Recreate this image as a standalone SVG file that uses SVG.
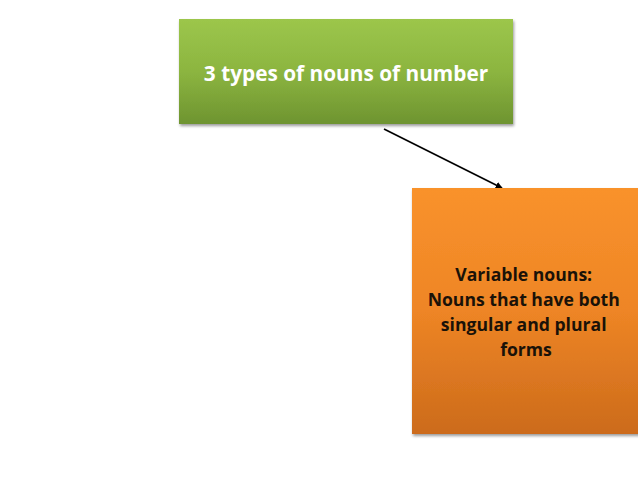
<svg xmlns="http://www.w3.org/2000/svg" width="638" height="478" viewBox="0 0 638 478">
<defs>
<linearGradient id="gGreen" x1="0" y1="0" x2="0" y2="1">
<stop offset="0" stop-color="#9cc64b"/>
<stop offset="0.5" stop-color="#8cb540"/>
<stop offset="1" stop-color="#6e9430"/>
</linearGradient>
<linearGradient id="gOrange" x1="0" y1="0" x2="0" y2="1">
<stop offset="0" stop-color="#f9922c"/>
<stop offset="0.5" stop-color="#ee8525"/>
<stop offset="1" stop-color="#cc6b1c"/>
</linearGradient>
<filter id="sh" x="-10%" y="-10%" width="130%" height="130%">
<feGaussianBlur in="SourceAlpha" stdDeviation="1.5"/>
<feOffset dx="1" dy="2"/>
<feComponentTransfer><feFuncA type="linear" slope="0.4"/></feComponentTransfer>
<feMerge><feMergeNode/><feMergeNode in="SourceGraphic"/></feMerge>
</filter>
<marker id="arr" viewBox="0 0 10 10" refX="9" refY="5" markerWidth="7" markerHeight="7" orient="auto" markerUnits="userSpaceOnUse">
<path d="M0,0 L10,5 L0,10 Z" fill="#000"/>
</marker>
<style>
.t{font-family:"Open Sans","Noto Sans","Liberation Sans",sans-serif;font-weight:bold;text-anchor:middle}
</style>
</defs>
<rect width="638" height="478" fill="#fff"/>
<g id="connectors">
<line x1="384" y1="129" x2="502" y2="188" stroke="#000" stroke-width="1.6" marker-end="url(#arr)"/>
</g>
<g id="node-types">
<rect x="179" y="19" width="334" height="105" fill="url(#gGreen)" filter="url(#sh)"/>
<text class="t" x="346" y="81" font-size="20.8" fill="#fff">3 types of nouns of number</text>
</g>
<g id="node-variable">
<rect x="412" y="188" width="230" height="246" fill="url(#gOrange)" filter="url(#sh)"/>
<text class="t" font-size="17.6" fill="#1a1208">
<tspan x="526" y="281">Variable nouns:</tspan>
<tspan x="526" y="306">Nouns that have both</tspan>
<tspan x="526" y="331">singular and plural</tspan>
<tspan x="526" y="356">forms</tspan>
</text>
</g>
</svg>
